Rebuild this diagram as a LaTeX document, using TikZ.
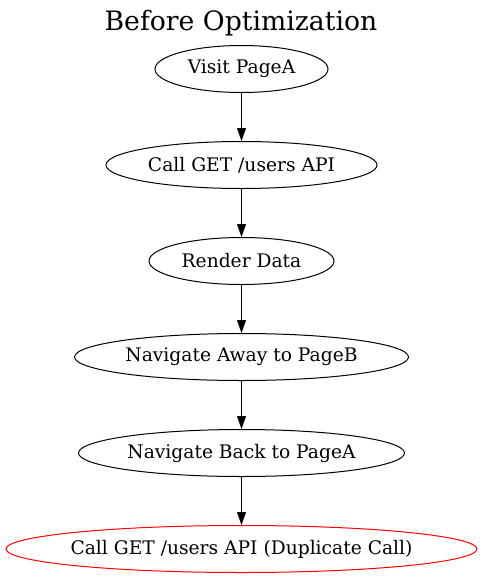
\documentclass[tikz,border=0pt]{standalone}
\usepackage{fontspec}
\setmainfont{DejaVu Serif}
\usetikzlibrary{shapes.geometric,arrows.meta}
\tikzset{
  flownode/.style={ellipse, draw=black, line width=1pt, inner sep=0pt, font=\fontsize{18.67}{22}\selectfont},
  dupnode/.style={flownode, draw=red, inner xsep=-6pt},
  flowarrow/.style={draw=black, line width=1pt, -{Triangle[length=13pt,width=9pt]}}
}
\begin{document}
\begin{tikzpicture}[x=1pt,y=-1pt]
\useasboundingbox (0,0) rectangle (482,579);
\node[font=\fontsize{26.67}{30}\selectfont] (title) at (241,23) {Before Optimization};
\node[flownode, minimum width=173pt, minimum height=47pt] (a) at (241.5,69) {Visit PageA};
\node[flownode, minimum width=271pt, minimum height=47pt] (b) at (241.5,165) {Call GET /users API};
\node[flownode, minimum width=185pt, minimum height=47pt] (c) at (241.5,261) {Render Data};
\node[flownode, minimum width=334pt, minimum height=47pt] (d) at (241.5,357) {Navigate Away to PageB};
\node[flownode, minimum width=326pt, minimum height=47pt] (e) at (241.5,453) {Navigate Back to PageA};
\node[dupnode, minimum width=471pt, minimum height=47pt] (f) at (241.5,549) {Call GET /users API (Duplicate Call)};
\draw[flowarrow] (a) -- (b);
\draw[flowarrow] (b) -- (c);
\draw[flowarrow] (c) -- (d);
\draw[flowarrow] (d) -- (e);
\draw[flowarrow] (e) -- (f);
\end{tikzpicture}
\end{document}
